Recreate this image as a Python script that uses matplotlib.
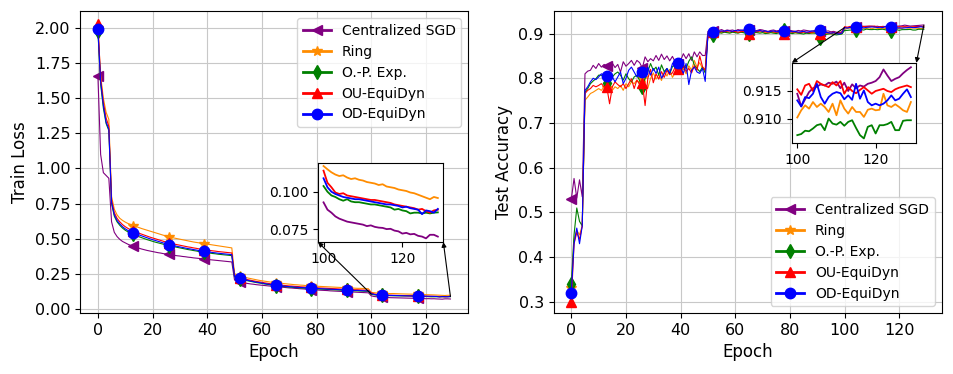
import numpy as np
import matplotlib
matplotlib.use("Agg")
import matplotlib.pyplot as plt


labels = ["Centralized SGD", "Ring", "O.-P. Exp.", "OU-EquiDyn", "OD-EquiDyn"]
colors = ["purple", "darkorange", "green", "red", "blue"]
markers = ["<", "*", "d", "^", "o"]

# train loss per epoch (0..129)
sgd_loss = [
    1.66, 1.10, 0.97, 0.95, 0.93, 0.62, 0.545, 0.515, 0.495, 0.48,
    0.47, 0.46, 0.452, 0.445, 0.438, 0.432, 0.426, 0.421, 0.416, 0.412,
    0.408, 0.404, 0.40, 0.397, 0.393, 0.39, 0.387, 0.384, 0.381, 0.378,
    0.376, 0.373, 0.371, 0.368, 0.366, 0.363, 0.361, 0.359, 0.357, 0.355,
    0.352, 0.35, 0.348, 0.346, 0.344, 0.342, 0.34, 0.338, 0.336, 0.334,
    0.205, 0.195, 0.19, 0.186, 0.183, 0.18, 0.177, 0.175, 0.172, 0.17,
    0.168, 0.166, 0.164, 0.162, 0.16, 0.158, 0.156, 0.154, 0.153, 0.151,
    0.149, 0.148, 0.146, 0.145, 0.143, 0.142, 0.14, 0.139, 0.137, 0.136,
    0.135, 0.133, 0.132, 0.131, 0.13, 0.128, 0.127, 0.126, 0.125, 0.124,
    0.123, 0.122, 0.121, 0.12, 0.119, 0.118, 0.117, 0.116, 0.115, 0.114,
    0.0929, 0.088, 0.086, 0.0835, 0.082, 0.081, 0.080, 0.0795, 0.079, 0.0785,
    0.078, 0.077, 0.0775, 0.0765, 0.076, 0.0758, 0.075, 0.0752, 0.074, 0.0735,
    0.072, 0.0725, 0.0715, 0.0718, 0.0705, 0.070, 0.0688, 0.0712, 0.0712, 0.070,
]
ring_loss = [
    2.00, 1.66, 1.50, 1.40, 1.35, 0.80, 0.71, 0.67, 0.645, 0.63,
    0.618, 0.608, 0.60, 0.593, 0.586, 0.579, 0.572, 0.566, 0.56, 0.554,
    0.548, 0.542, 0.536, 0.53, 0.524, 0.518, 0.513, 0.508, 0.504, 0.50,
    0.496, 0.492, 0.488, 0.484, 0.48, 0.476, 0.473, 0.47, 0.467, 0.464,
    0.461, 0.458, 0.455, 0.452, 0.449, 0.446, 0.443, 0.44, 0.437, 0.434,
    0.25, 0.241, 0.235, 0.229, 0.224, 0.219, 0.215, 0.211, 0.207, 0.203,
    0.20, 0.197, 0.194, 0.191, 0.188, 0.186, 0.184, 0.182, 0.18, 0.178,
    0.176, 0.174, 0.172, 0.171, 0.169, 0.168, 0.166, 0.165, 0.164, 0.162,
    0.161, 0.16, 0.159, 0.158, 0.157, 0.156, 0.155, 0.154, 0.153, 0.152,
    0.151, 0.15, 0.149, 0.148, 0.147, 0.146, 0.146, 0.145, 0.144, 0.143,
    0.1172, 0.115, 0.113, 0.1115, 0.1105, 0.111, 0.1095, 0.1085, 0.109, 0.108,
    0.1075, 0.1065, 0.106, 0.1055, 0.1045, 0.105, 0.1035, 0.103, 0.1025, 0.1015,
    0.101, 0.1005, 0.0995, 0.099, 0.098, 0.097, 0.096, 0.095, 0.0965, 0.0958,
]
opexp_loss = [
    1.98, 1.60, 1.43, 1.32, 1.27, 0.75, 0.66, 0.62, 0.595, 0.575,
    0.56, 0.548, 0.538, 0.53, 0.522, 0.514, 0.507, 0.50, 0.493, 0.487,
    0.481, 0.475, 0.47, 0.465, 0.46, 0.455, 0.45, 0.446, 0.442, 0.438,
    0.434, 0.43, 0.426, 0.422, 0.419, 0.415, 0.412, 0.408, 0.405, 0.402,
    0.399, 0.397, 0.394, 0.392, 0.389, 0.387, 0.385, 0.383, 0.381, 0.379,
    0.228, 0.219, 0.213, 0.208, 0.203, 0.199, 0.195, 0.191, 0.187, 0.184,
    0.181, 0.177, 0.174, 0.171, 0.168, 0.165, 0.163, 0.161, 0.159, 0.157,
    0.155, 0.154, 0.152, 0.151, 0.149, 0.148, 0.147, 0.145, 0.144, 0.143,
    0.142, 0.141, 0.14, 0.139, 0.138, 0.137, 0.136, 0.135, 0.134, 0.133,
    0.132, 0.131, 0.13, 0.129, 0.128, 0.128, 0.127, 0.126, 0.125, 0.125,
    0.1038, 0.100, 0.0975, 0.0965, 0.095, 0.094, 0.095, 0.0935, 0.093, 0.093,
    0.0925, 0.092, 0.0915, 0.0915, 0.091, 0.0905, 0.090, 0.0895, 0.088, 0.0885,
    0.0875, 0.087, 0.0855, 0.086, 0.086, 0.0855, 0.086, 0.0855, 0.086, 0.0862,
]
ou_loss = [
    2.03, 1.64, 1.47, 1.36, 1.30, 0.775, 0.685, 0.645, 0.62, 0.60,
    0.585, 0.573, 0.563, 0.555, 0.547, 0.539, 0.532, 0.525, 0.518, 0.511,
    0.505, 0.499, 0.493, 0.487, 0.481, 0.475, 0.469, 0.465, 0.461, 0.457,
    0.453, 0.449, 0.445, 0.441, 0.438, 0.434, 0.431, 0.427, 0.424, 0.421,
    0.418, 0.416, 0.413, 0.411, 0.408, 0.406, 0.404, 0.402, 0.40, 0.398,
    0.238, 0.229, 0.223, 0.217, 0.212, 0.207, 0.203, 0.199, 0.195, 0.192,
    0.189, 0.185, 0.182, 0.179, 0.176, 0.173, 0.171, 0.169, 0.167, 0.165,
    0.163, 0.162, 0.16, 0.159, 0.157, 0.156, 0.155, 0.153, 0.152, 0.151,
    0.15, 0.149, 0.148, 0.147, 0.146, 0.145, 0.144, 0.143, 0.142, 0.141,
    0.14, 0.139, 0.138, 0.137, 0.136, 0.136, 0.135, 0.134, 0.133, 0.133,
    0.1141, 0.106, 0.103, 0.0995, 0.0985, 0.099, 0.0975, 0.097, 0.0965, 0.096,
    0.0955, 0.095, 0.0945, 0.0945, 0.094, 0.0935, 0.093, 0.0925, 0.0915, 0.091,
    0.0905, 0.090, 0.0895, 0.089, 0.088, 0.0885, 0.087, 0.086, 0.0875, 0.088,
]
od_loss = [
    1.99, 1.62, 1.45, 1.33, 1.28, 0.76, 0.67, 0.63, 0.605, 0.585,
    0.57, 0.558, 0.548, 0.543, 0.535, 0.527, 0.52, 0.513, 0.506, 0.499,
    0.493, 0.487, 0.481, 0.475, 0.469, 0.463, 0.457, 0.453, 0.449, 0.445,
    0.441, 0.437, 0.433, 0.429, 0.426, 0.422, 0.419, 0.415, 0.412, 0.409,
    0.406, 0.404, 0.401, 0.399, 0.396, 0.394, 0.392, 0.39, 0.388, 0.386,
    0.232, 0.223, 0.218, 0.212, 0.207, 0.202, 0.198, 0.194, 0.19, 0.187,
    0.184, 0.18, 0.177, 0.174, 0.171, 0.168, 0.166, 0.164, 0.162, 0.16,
    0.158, 0.157, 0.155, 0.154, 0.152, 0.151, 0.15, 0.148, 0.147, 0.146,
    0.145, 0.144, 0.143, 0.142, 0.141, 0.14, 0.139, 0.138, 0.137, 0.136,
    0.135, 0.134, 0.133, 0.132, 0.131, 0.131, 0.13, 0.129, 0.128, 0.128,
    0.109, 0.103, 0.100, 0.0985, 0.0975, 0.0965, 0.096, 0.0955, 0.095, 0.095,
    0.0945, 0.094, 0.0935, 0.093, 0.0925, 0.092, 0.0915, 0.0915, 0.091, 0.0905,
    0.0895, 0.090, 0.089, 0.0885, 0.088, 0.085, 0.0875, 0.087, 0.086, 0.0885,
]

# test accuracy per epoch (0..129)
sgd_acc = [
    0.529, 0.576, 0.532, 0.573, 0.535, 0.810, 0.816, 0.818, 0.829, 0.822,
    0.833, 0.825, 0.831, 0.827, 0.824, 0.834, 0.824, 0.831, 0.814, 0.837,
    0.827, 0.833, 0.840, 0.829, 0.840, 0.835, 0.823, 0.848, 0.837, 0.844,
    0.839, 0.851, 0.840, 0.854, 0.842, 0.850, 0.839, 0.849, 0.837, 0.832,
    0.840, 0.855, 0.844, 0.855, 0.840, 0.859, 0.848, 0.859, 0.851, 0.851,
    0.905, 0.907, 0.906, 0.908, 0.907, 0.909, 0.906, 0.908, 0.907, 0.908,
    0.906, 0.909, 0.907, 0.908, 0.909, 0.907, 0.908, 0.906, 0.907, 0.909,
    0.908, 0.906, 0.905, 0.907, 0.908, 0.906, 0.907, 0.905, 0.906, 0.908,
    0.907, 0.906, 0.905, 0.907, 0.906, 0.908, 0.907, 0.906, 0.905, 0.907,
    0.908, 0.906, 0.907, 0.905, 0.906, 0.904, 0.905, 0.903, 0.902, 0.904,
    0.9145, 0.9122, 0.9135, 0.9148, 0.9155, 0.9158, 0.9162, 0.9160, 0.9165, 0.9163,
    0.9167, 0.9155, 0.9165, 0.9150, 0.9162, 0.9155, 0.9160, 0.9158, 0.9163, 0.9165,
    0.9168, 0.9175, 0.9189, 0.9178, 0.9168, 0.9172, 0.9175, 0.9182, 0.9188, 0.9193,
]
ring_acc = [
    0.33, 0.44, 0.46, 0.45, 0.47, 0.751, 0.758, 0.766, 0.769, 0.773,
    0.777, 0.773, 0.781, 0.778, 0.777, 0.773, 0.781, 0.777, 0.784, 0.773,
    0.788, 0.781, 0.792, 0.788, 0.796, 0.790, 0.800, 0.785, 0.778, 0.800,
    0.812, 0.798, 0.808, 0.795, 0.815, 0.805, 0.820, 0.802, 0.812, 0.825,
    0.815, 0.822, 0.810, 0.828, 0.818, 0.840, 0.825, 0.835, 0.822, 0.820,
    0.898, 0.900, 0.901, 0.902, 0.903, 0.902, 0.904, 0.903, 0.902, 0.904,
    0.903, 0.902, 0.904, 0.903, 0.902, 0.903, 0.904, 0.902, 0.903, 0.904,
    0.903, 0.902, 0.901, 0.903, 0.902, 0.903, 0.901, 0.902, 0.903, 0.902,
    0.901, 0.903, 0.902, 0.901, 0.902, 0.903, 0.901, 0.902, 0.900, 0.902,
    0.901, 0.900, 0.901, 0.902, 0.900, 0.899, 0.901, 0.900, 0.899, 0.900,
    0.9102, 0.9115, 0.9124, 0.9118, 0.9130, 0.9121, 0.9127, 0.9121, 0.9112, 0.9127,
    0.9106, 0.9133, 0.9118, 0.9109, 0.9121, 0.9112, 0.9112, 0.9103, 0.9116, 0.9118,
    0.9115, 0.9116, 0.9145, 0.9124, 0.9121, 0.9126, 0.9121, 0.9115, 0.9112, 0.9130,
]
opexp_acc = [
    0.34, 0.45, 0.51, 0.48, 0.47, 0.769, 0.777, 0.788, 0.794, 0.799,
    0.807, 0.807, 0.803, 0.790, 0.810, 0.803, 0.810, 0.814, 0.807, 0.796,
    0.810, 0.799, 0.792, 0.803, 0.807, 0.795, 0.780, 0.800, 0.815, 0.833,
    0.818, 0.825, 0.807, 0.830, 0.815, 0.822, 0.810, 0.826, 0.832, 0.828,
    0.818, 0.830, 0.822, 0.838, 0.848, 0.830, 0.822, 0.815, 0.825, 0.812,
    0.897, 0.899, 0.896, 0.901, 0.902, 0.901, 0.903, 0.902, 0.901, 0.903,
    0.902, 0.901, 0.903, 0.902, 0.900, 0.898, 0.901, 0.903, 0.902, 0.901,
    0.902, 0.900, 0.901, 0.902, 0.901, 0.900, 0.902, 0.901, 0.909, 0.902,
    0.901, 0.900, 0.902, 0.901, 0.900, 0.899, 0.901, 0.900, 0.902, 0.901,
    0.900, 0.889, 0.900, 0.898, 0.899, 0.900, 0.898, 0.897, 0.898, 0.899,
    0.9070, 0.9072, 0.9078, 0.9077, 0.9082, 0.9088, 0.9090, 0.9079, 0.9100, 0.9091,
    0.9089, 0.9094, 0.9087, 0.9094, 0.9097, 0.9083, 0.9070, 0.9064, 0.9085, 0.9088,
    0.9073, 0.9088, 0.9088, 0.9090, 0.9094, 0.9079, 0.9079, 0.9096, 0.9097, 0.9097,
]
ou_acc = [
    0.30, 0.43, 0.455, 0.44, 0.47, 0.766, 0.773, 0.777, 0.784, 0.781,
    0.784, 0.788, 0.781, 0.780, 0.743, 0.781, 0.792, 0.786, 0.781, 0.788,
    0.777, 0.788, 0.799, 0.777, 0.796, 0.786, 0.790, 0.739, 0.800, 0.820,
    0.790, 0.810, 0.798, 0.815, 0.802, 0.818, 0.808, 0.812, 0.825, 0.820,
    0.812, 0.830, 0.815, 0.822, 0.812, 0.828, 0.818, 0.850, 0.826, 0.818,
    0.899, 0.901, 0.903, 0.904, 0.903, 0.905, 0.904, 0.905, 0.906, 0.904,
    0.905, 0.903, 0.904, 0.905, 0.906, 0.900, 0.903, 0.905, 0.904, 0.906,
    0.905, 0.904, 0.903, 0.905, 0.904, 0.903, 0.904, 0.902, 0.898, 0.904,
    0.905, 0.903, 0.904, 0.903, 0.902, 0.904, 0.903, 0.902, 0.903, 0.904,
    0.903, 0.899, 0.903, 0.901, 0.902, 0.901, 0.903, 0.900, 0.901, 0.902,
    0.9153, 0.9143, 0.9160, 0.9163, 0.9150, 0.9168, 0.9163, 0.9160, 0.9157, 0.9166,
    0.9160, 0.9168, 0.9145, 0.9157, 0.9150, 0.9146, 0.9152, 0.9157, 0.9151, 0.9145,
    0.9150, 0.9152, 0.9154, 0.9150, 0.9148, 0.9153, 0.9156, 0.9158, 0.9160, 0.9157,
]
od_acc = [
    0.32, 0.43, 0.465, 0.43, 0.47, 0.773, 0.781, 0.792, 0.800, 0.797,
    0.803, 0.810, 0.807, 0.805, 0.796, 0.803, 0.792, 0.803, 0.814, 0.788,
    0.800, 0.818, 0.825, 0.814, 0.803, 0.818, 0.815, 0.810, 0.825, 0.807,
    0.822, 0.811, 0.825, 0.800, 0.811, 0.822, 0.811, 0.833, 0.837, 0.835,
    0.825, 0.811, 0.833, 0.786, 0.818, 0.825, 0.814, 0.811, 0.822, 0.793,
    0.900, 0.902, 0.903, 0.904, 0.905, 0.906, 0.905, 0.907, 0.906, 0.905,
    0.907, 0.906, 0.908, 0.907, 0.906, 0.910, 0.907, 0.905, 0.906, 0.907,
    0.905, 0.906, 0.904, 0.905, 0.906, 0.904, 0.905, 0.903, 0.905, 0.905,
    0.906, 0.904, 0.905, 0.903, 0.904, 0.905, 0.903, 0.904, 0.906, 0.905,
    0.904, 0.907, 0.905, 0.903, 0.902, 0.901, 0.902, 0.900, 0.899, 0.901,
    0.9133, 0.9122, 0.9139, 0.9137, 0.9145, 0.9163, 0.9139, 0.9127, 0.9139, 0.9145,
    0.9148, 0.9146, 0.9135, 0.9142, 0.9134, 0.9163, 0.9136, 0.9151, 0.9130, 0.9124,
    0.9127, 0.9124, 0.9127, 0.9133, 0.9142, 0.9133, 0.9136, 0.9145, 0.9153, 0.9139,
]

loss_series = [sgd_loss, ring_loss, opexp_loss, ou_loss, od_loss]
acc_series = [sgd_acc, ring_acc, opexp_acc, ou_acc, od_acc]
for s in loss_series + acc_series:
    assert len(s) == 130, len(s)

zoom_start = 100


def draw_panel(ax, series, ylabel, ylim, legend_loc,
               inset_rect, inset_ylim, inset_yticks, links):

    for y, lab, c, m in zip(series, labels, colors, markers):
        x = np.arange(len(y))
        ax.plot(x, y, color=c, marker=m, markersize=7.5, markevery=13,
                linewidth=0.8, label=lab)

    ax.set_xlim(-6.5, 135.5)
    ax.set_ylim(*ylim)
    ax.set_xticks(range(0, 121, 20))
    ax.set_xlabel("Epoch", fontsize=12)
    ax.set_ylabel(ylabel, fontsize=12)
    ax.tick_params(labelsize=11.5)
    ax.grid(True, color="#c8c8c8")

    leg = ax.legend(loc=legend_loc, fontsize=10)
    for h in leg.legend_handles:
        h.set_linewidth(2)

    # zoomed inset of the last 30 epochs
    axins = ax.inset_axes(inset_rect)
    for y, c in zip(series, colors):
        x = np.arange(len(y))
        axins.plot(x[zoom_start:], y[zoom_start:], color=c, linewidth=1.3)
    axins.set_xlim(98.6, 130.4)
    axins.set_ylim(*inset_ylim)
    axins.set_xticks([100, 120])
    axins.set_yticks(inset_yticks)
    axins.set_yticklabels(["{:.3f}".format(v) for v in inset_yticks])
    axins.tick_params(labelsize=10)

    for src, dst in links:
        ax.annotate("", xy=dst, xycoords="axes fraction",
                    xytext=src, textcoords="data",
                    arrowprops=dict(arrowstyle="-|>", color="black",
                                    lw=0.8, mutation_scale=7,
                                    shrinkA=0, shrinkB=0))


fig, (ax1, ax2) = plt.subplots(1, 2, figsize=(9.54, 3.74), dpi=100)
fig.subplots_adjust(left=0.084, right=0.987, bottom=0.163, top=0.97, wspace=0.22)

draw_panel(ax1, loss_series, "Train Loss", (-0.03, 2.12), "upper right",
           [0.613, 0.235, 0.323, 0.262], (0.0663, 0.1192), [0.075, 0.100],
           [((100, 0.105), (0.613, 0.235)), ((129, 0.088), (0.936, 0.235))])

draw_panel(ax2, acc_series, "Test Accuracy", (0.275, 0.95), "lower right",
           [0.614, 0.562, 0.321, 0.267], (0.9055, 0.9201), [0.910, 0.915],
           [((100, 0.9134), (0.614, 0.829)), ((129, 0.9186), (0.935, 0.829))])

plt.savefig("out.png", dpi=100)
